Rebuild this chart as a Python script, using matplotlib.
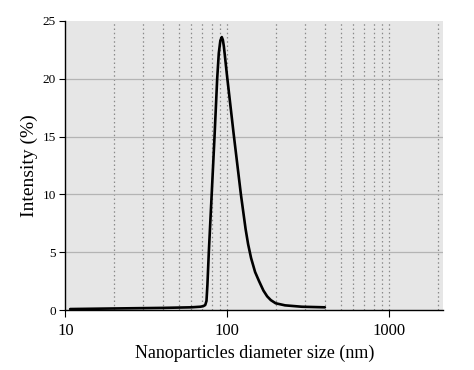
import matplotlib
matplotlib.use("Agg")
import matplotlib.pyplot as plt
from matplotlib.ticker import FixedLocator, NullFormatter

# Data
diameter_nm = [10.7, 20, 40, 60, 68, 71, 73, 74.3, 75.3, 76.8, 80.0, 83.3, 86.5,
               88.5, 90.5, 92.35, 93.8, 95.1, 96.5, 98.2, 99.6, 109.4, 121.2,
               129.6, 134.3, 140.1, 148.3, 157.0, 166.9, 176.0, 185.5, 198.6,
               227, 288, 400]
intensity_pct = [0.1, 0.15, 0.2, 0.25, 0.3, 0.35, 0.45, 0.8, 2.2, 5.0, 10.0, 15.0, 20.0,
                 22.2, 23.3, 23.6, 23.35, 22.8, 22.0, 21.0, 20.2, 15.2, 10.0,
                 7.0, 5.7, 4.5, 3.3, 2.5, 1.7, 1.2, 0.87, 0.6,
                 0.42, 0.3, 0.25]

x_ticks = [10, 100, 1000]
x_tick_labels = ["10", "100", "1000"]
y_ticks = [0, 5, 10, 15, 20, 25]
v_grid = [20, 30, 40, 50, 60, 70, 80, 90, 100, 200, 300, 400, 500, 600, 700, 800, 900, 1000, 2000]
h_grid = [5, 10, 15, 20]

plt.rcParams['font.family'] = ['Liberation Serif', 'DejaVu Serif']

fig = plt.figure(figsize=(4.74, 3.70), dpi=100)
ax = fig.add_axes([0.138, 0.1616, 0.797, 0.782])
ax.set_facecolor('#e6e6e6')

ax.set_xscale('log')
ax.set_xlim(10, 2150)
ax.set_ylim(0, 25)

for v in v_grid:
    ax.axvline(v, color='#8a8a8a', linestyle=(0, (1.2, 2.2)), linewidth=0.9, zorder=1)
for h in h_grid:
    ax.axhline(h, color='#b4b4b4', linestyle='-', linewidth=0.9, zorder=1)

ax.plot(diameter_nm, intensity_pct, color='black', linewidth=1.9, zorder=3,
        solid_joinstyle='round', solid_capstyle='round')

ax.xaxis.set_major_locator(FixedLocator(x_ticks))
ax.set_xticklabels(x_tick_labels)
ax.xaxis.set_minor_locator(FixedLocator([]))
ax.xaxis.set_minor_formatter(NullFormatter())
ax.set_yticks(y_ticks)

ax.tick_params(axis='x', direction='out', length=5, width=0.8, labelsize=12, pad=4)
ax.tick_params(axis='y', direction='out', length=4, width=0.8, labelsize=9.5, pad=3)

for s in ['top', 'right']:
    ax.spines[s].set_visible(False)
for s in ['left', 'bottom']:
    ax.spines[s].set_linewidth(1.0)
    ax.spines[s].set_color('black')

ax.set_xlabel('Nanoparticles diameter size (nm)', fontsize=13, labelpad=4)
ax.set_ylabel('Intensity (%)', fontsize=14, labelpad=3)

fig.savefig('out.png', dpi=100)
